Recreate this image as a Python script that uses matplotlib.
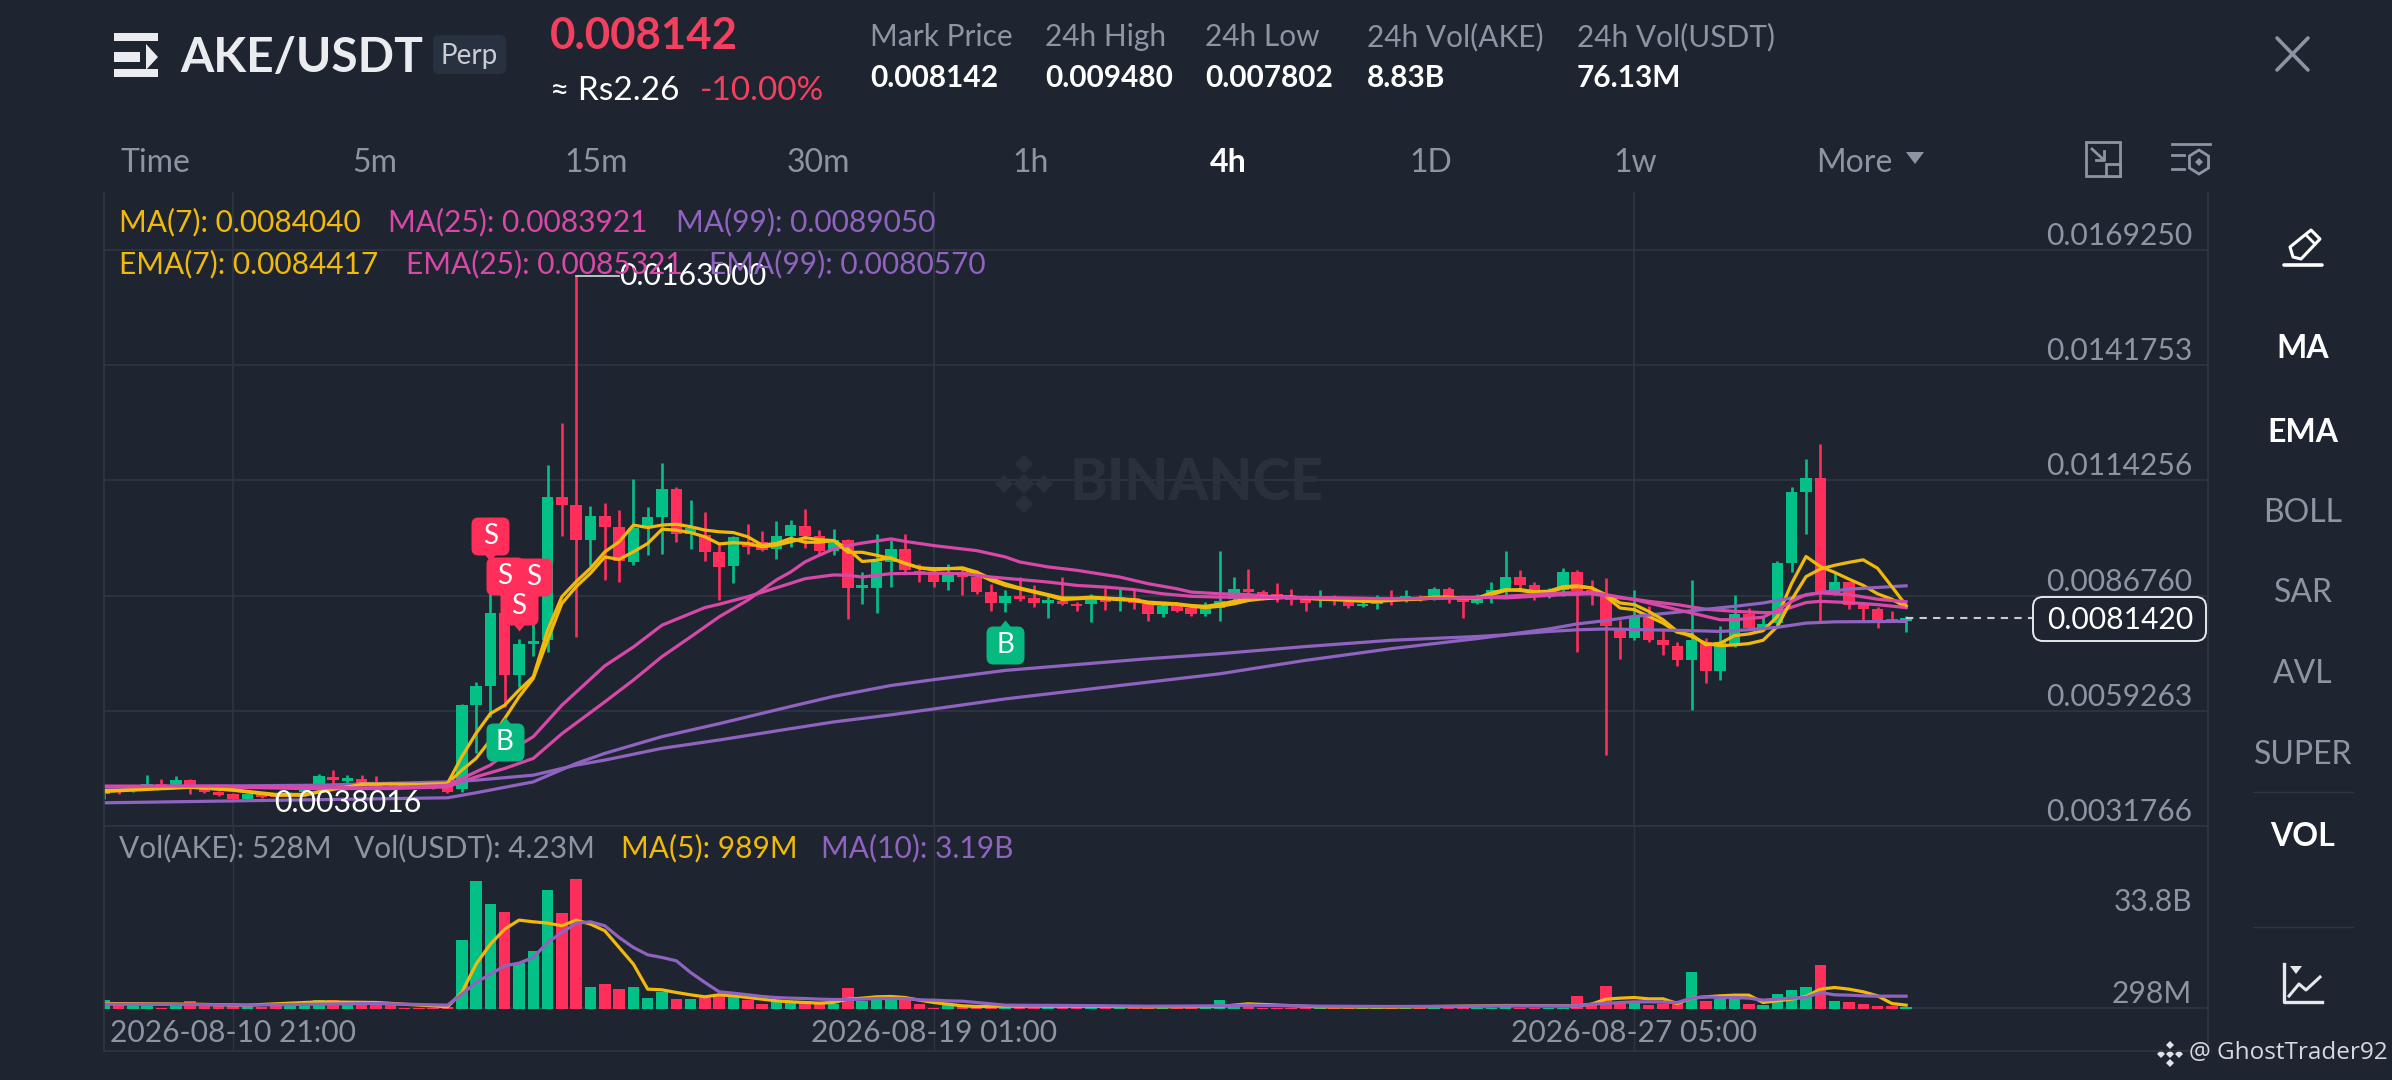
#!/usr/bin/env python
import numpy as np
import matplotlib
matplotlib.use("Agg")
import matplotlib.pyplot as plt
from matplotlib.collections import LineCollection
from matplotlib.patches import FancyBboxPatch, Rectangle, Polygon
from matplotlib.path import Path

plt.rcParams['font.family'] = ['Lato', 'DejaVu Sans']

# candles, prices are in units of 1e-3 USDT, 4h bars
opens = [3.95,4.05,4.02,4.11,4.19,4.15,4.27,4.07,3.99,3.95,3.83,3.93,3.91,3.89,3.99,4.11,4.35,4.25,4.31,4.23,
	4.21,4.19,4.17,4.15,4.13,4.07,6.06,6.52,8.27,6.78,7.53,7.61,11.04,10.84,10.00,10.58,10.32,9.47,10.28,10.56,
	11.22,10.15,10.12,9.72,9.38,9.96,9.96,9.80,10.09,10.34,10.09,9.75,10.01,8.86,8.86,9.48,9.79,9.26,9.21,9.00,
	9.24,9.13,8.76,8.51,8.66,8.62,8.51,8.54,8.47,8.47,8.64,8.54,8.62,8.47,8.23,8.42,8.39,8.24,8.39,8.60,
	8.84,8.76,8.72,8.64,8.58,8.58,8.60,8.52,8.42,8.48,8.62,8.59,8.64,8.66,8.84,8.64,8.50,8.68,8.82,9.12,
	8.93,8.64,8.82,9.23,8.82,8.70,7.90,7.66,8.18,7.62,7.48,7.14,7.58,6.87,7.53,8.24,7.90,8.02,9.45,11.16,
	11.48,8.75,8.99,8.44,8.36,8.12,8.06]
closes = [4.03,3.98,4.07,4.19,4.10,4.27,4.11,3.99,3.91,3.83,3.95,3.87,3.87,3.95,4.11,4.37,4.27,4.33,4.19,4.11,
	4.15,4.13,4.11,4.09,3.99,6.06,6.52,8.27,6.78,7.52,7.60,11.04,10.84,10.00,10.58,10.32,9.51,10.28,10.56,11.22,
	10.15,10.28,9.72,9.36,10.08,9.84,9.76,10.10,10.35,10.09,9.75,10.01,8.86,8.92,9.48,9.79,9.28,9.18,9.00,9.20,
	9.13,8.76,8.51,8.66,8.60,8.51,8.58,8.47,8.42,8.62,8.52,8.64,8.50,8.23,8.42,8.32,8.24,8.39,8.54,8.84,
	8.76,8.68,8.64,8.58,8.50,8.62,8.54,8.42,8.48,8.58,8.56,8.66,8.60,8.84,8.64,8.52,8.60,8.82,9.12,8.92,
	8.78,8.78,9.23,8.78,8.70,7.94,7.66,8.18,7.62,7.49,7.14,7.61,6.87,7.56,8.24,7.90,8.00,9.45,11.16,11.48,
	8.74,8.99,8.46,8.36,8.10,8.06,8.14]
highs = [4.05,4.07,4.10,4.39,4.29,4.37,4.29,4.10,4.01,3.97,3.97,3.95,3.93,3.98,4.15,4.41,4.51,4.39,4.39,4.37,
	4.23,4.21,4.19,4.17,4.15,6.09,6.62,8.77,8.50,7.65,8.01,11.79,12.80,16.30,10.81,10.89,10.72,11.47,10.80,11.83,
	11.26,10.96,10.67,9.92,10.10,10.38,10.22,10.46,10.47,10.75,10.25,10.27,10.03,9.25,10.14,10.01,10.14,9.44,9.34,9.42,
	9.34,9.28,8.96,8.82,9.12,8.92,8.72,9.12,8.52,8.72,8.86,8.84,8.82,8.50,8.52,8.52,8.44,8.52,9.74,9.12,
	9.32,8.82,8.97,8.84,8.68,8.82,8.68,8.60,8.62,8.68,8.80,8.82,8.68,8.88,8.88,8.68,8.72,9.00,9.75,9.28,
	8.99,8.86,9.33,9.29,9.05,9.09,8.10,8.82,8.42,7.86,7.56,9.04,7.66,7.96,8.68,8.38,8.18,9.51,11.28,11.94,
	12.30,9.21,9.01,8.50,8.40,8.32,8.20]
lows = [3.83,3.95,4.00,4.09,4.08,4.12,3.95,3.97,3.90,3.82,3.82,3.85,3.80,3.87,3.97,4.05,4.19,4.19,4.15,4.09,
	4.13,4.11,4.09,4.07,3.97,3.99,4.91,5.78,6.02,6.50,7.23,7.34,10.10,7.69,9.38,9.05,9.00,9.40,9.64,9.67,
	9.96,9.80,9.51,8.58,8.97,9.66,9.74,9.56,9.83,9.82,9.68,9.64,8.11,8.48,8.26,8.89,9.18,9.00,8.89,8.82,
	8.68,8.72,8.32,8.28,8.54,8.40,8.15,8.44,8.32,8.04,8.34,8.32,8.36,8.08,8.16,8.28,8.18,8.18,8.07,8.54,
	8.68,8.58,8.52,8.44,8.31,8.40,8.44,8.39,8.40,8.36,8.44,8.52,8.54,8.58,8.50,8.15,8.48,8.50,8.68,8.82,
	8.56,8.62,8.66,7.33,8.44,4.87,7.16,7.61,7.58,7.26,7.00,5.95,6.59,6.67,7.45,7.86,7.86,7.94,9.25,10.15,
	8.07,8.70,8.36,8.07,7.90,8.04,7.81]

# volume in billions
volume = [3.04,1.21,1.21,1.46,.36,1.46,2.91,.97,1.46,1.46,1.21,.49,.97,1.21,1.21,3.16,3.04,1.46,1.70,1.46,
	1.21,.36,.36,.36,.49,24.77,46.5,38.0,34.96,16.39,20.88,43.1,34.72,47.2,7.89,8.86,7.28,7.65,3.76,6.07,
	3.64,3.28,4.0,4.86,4.25,3.04,1.82,2.67,2.19,2.67,2.19,1.46,7.53,2.67,4.61,3.4,3.04,1.70,.36,1.46,
	.97,.97,.5,.97,.97,.24,.73,.73,.73,.97,.24,.24,.24,.6,.24,.24,.24,.24,3.16,.97,
	.97,.36,.24,.24,.24,.24,.24,.24,.24,.24,.24,.24,.24,.24,.24,.97,.24,.24,1.21,.36,
	.24,.24,.24,4.37,1.82,8.26,2.43,2.67,1.21,1.70,2.06,13.35,2.67,3.64,3.4,1.70,1.21,5.46,6.68,7.65,
	15.78,2.67,2.43,1.70,1.09,.97,.53]

# yellow lines
fast_idx = [0,3,6,9,12,14,16,18,20,22] + list(range(24, 127))
ma7 = [4.02,4.07,4.11,4.03,3.91,3.91,4.07,4.19,4.19,4.17,
	4.19,4.51,4.79,5.23,5.74,6.26,6.70,7.61,8.49,8.89,9.21,9.60,9.54,9.72,9.92,10.26,10.24,10.18,10.08,9.91,
	9.94,9.92,9.84,9.88,9.96,10.06,10.01,9.99,9.79,9.49,9.52,9.58,9.44,9.34,9.29,9.32,9.32,9.20,9.04,8.92,
	8.84,8.76,8.68,8.58,8.60,8.62,8.60,8.58,8.56,8.50,8.47,8.47,8.42,8.39,8.42,8.48,8.56,8.60,8.62,8.64,
	8.62,8.62,8.61,8.58,8.56,8.54,8.56,8.58,8.59,8.62,8.64,8.62,8.60,8.70,8.80,8.82,8.77,8.78,8.89,8.91,
	8.86,8.66,8.38,8.34,8.18,8.02,7.80,7.74,7.50,7.54,7.72,7.76,7.84,8.18,8.97,9.61,9.37,9.23,9.07,8.92,
	8.72,8.59,8.40]
ema7 = [4.00,4.05,4.10,4.04,3.93,3.93,4.05,4.17,4.18,4.17,
	4.19,4.83,5.39,5.86,6.06,6.42,6.74,7.85,8.65,9.01,9.33,9.72,9.96,10.36,10.30,10.36,10.38,10.32,10.24,10.20,
	10.18,10.08,9.88,9.92,10.04,9.95,9.95,9.99,9.71,9.71,9.64,9.56,9.45,9.34,9.32,9.32,9.34,9.24,9.08,8.96,
	8.86,8.78,8.70,8.62,8.62,8.64,8.62,8.60,8.58,8.52,8.50,8.48,8.44,8.42,8.47,8.54,8.60,8.64,8.64,8.64,
	8.61,8.59,8.58,8.56,8.54,8.54,8.58,8.59,8.61,8.64,8.64,8.61,8.62,8.74,8.82,8.80,8.75,8.75,8.86,8.89,
	8.86,8.70,8.50,8.46,8.30,8.10,7.82,7.70,7.53,7.48,7.50,7.53,7.61,7.94,8.58,9.13,9.31,9.40,9.47,9.53,
	9.33,8.89,8.44]

# magenta lines
ma25_idx = [0,8,14,20,24,26,28,30,32,35,37,39,41,43,45,47,48,49,50,51,52,53,54,55,56,58,60,61,63,64,66,68,71,73,75,76,78,80,82,90,96,98,
	102,104,105,106,107,108,110,112,114,116,117,118,119,120,122,124,126]
ma25 = [4.11,4.11,4.07,4.07,4.11,4.35,4.55,4.79,5.38,6.14,6.66,7.22,7.69,8.17,8.57,9.05,9.24,9.48,9.64,9.79,9.87,9.93,9.98,10.03,9.97,9.87,9.79,9.75,9.60,9.48,9.36,9.28,9.12,8.96,8.84,8.76,8.72,8.70,8.64,8.60,8.64,8.62,
	8.70,8.72,8.67,8.62,8.59,8.54,8.46,8.35,8.30,8.27,8.27,8.40,8.51,8.54,8.51,8.46,8.39]
ema25_idx = [0,8,14,20,24,26,27,28,30,32,35,37,39,41,42,43,45,48,49,51,52,53,55,58,60,62,64,66,68,70,72,74,76,78,80,85,90,96,98,
	102,104,105,106,107,108,110,112,113,114,116,117,118,119,120,122,124,126]
ema25 = [4.13,4.13,4.09,4.09,4.15,4.47,4.63,4.89,5.31,6.06,7.00,7.45,7.97,8.25,8.39,8.47,8.65,8.97,9.08,9.17,9.16,9.12,9.20,9.21,9.20,9.12,9.06,9.00,8.92,8.88,8.82,8.72,8.66,8.64,8.64,8.62,8.60,8.62,8.66,
	8.74,8.75,8.70,8.64,8.58,8.50,8.34,8.18,8.10,8.10,8.16,8.34,8.54,8.70,8.74,8.70,8.59,8.53]

# purple lines
ma99_idx = [0,15,24,26,30,33,35,39,43,48,51,55,58,63,68,73,78,84,90,96,98,101,103,105,107,110,112,114,116,118,120,122,126]
ma99 = [4.11,4.15,4.23,4.27,4.39,4.63,4.75,5.03,5.23,5.50,5.66,5.83,5.97,6.21,6.41,6.61,6.81,7.13,7.41,7.65,7.74,7.88,8.00,8.08,8.18,8.28,8.35,8.42,8.50,8.62,8.75,8.83,8.91]
ema99_idx = [0,24,26,30,33,35,39,43,48,51,55,58,63,68,73,78,84,90,96,98,101,103,105,108,111,113,115,117,119,121,126]
ema99 = [3.73,3.85,3.97,4.23,4.67,4.91,5.31,5.62,6.03,6.27,6.53,6.67,6.89,7.03,7.17,7.29,7.46,7.61,7.70,7.74,7.82,7.86,7.88,7.86,7.84,7.82,7.86,7.92,8.02,8.05,8.06]

# volume averages
vol_idx = [0,6,10,15,19,24] + list(range(25, 62)) + [63,68,73,78,80,85,90,95,98,103] + list(range(104, 127))
vol_ma5 = [1.82,1.58,1.21,2.43,2.19,.61,
	5.83,16.15,23.43,28.89,32.17,31.56,31.08,30.11,32.17,30.71,28.29,22.22,16.15,7.04,6.80,5.83,4.98,4.25,4.98,4.61,4.0,3.4,2.79,2.43,2.19,1.94,2.19,3.4,3.76,4.25,4.37,4.0,3.04,2.19,1.58,.97,.73,
	.85,.85,.6,.73,1.7,.6,.49,.85,1.09,.97,
	1.58,3.4,3.76,4.0,3.52,3.52,1.82,3.76,4.25,4.61,4.86,4.86,2.19,2.79,3.4,4.37,7.04,7.65,7.04,6.07,4.61,1.82,1.21]
vol_ma10 = [1.58,1.46,1.21,1.58,1.82,1.21,
	5.22,9.47,12.5,15.54,16.51,18.57,24.04,27.68,31.08,31.56,30.11,25.86,22.22,19.55,18.57,17.36,13.11,9.47,6.07,5.58,4.98,4.37,4.0,3.76,3.64,3.4,3.28,3.28,3.4,3.64,3.64,3.64,3.16,3.04,2.79,2.67,2.19,
	1.21,1.09,.85,.97,1.21,.85,.73,.85,.97,.97,
	1.58,1.82,2.19,2.43,2.43,2.31,2.19,3.76,4.25,4.0,4.0,3.76,3.04,3.4,3.76,4.0,5.83,4.98,4.86,4.61,4.49,4.49,4.49]

price_levels = [3.1766, 5.9263, 8.6760, 11.4256, 14.1753, 16.9250]
price_labels = ["0.0031766", "0.0059263", "0.0086760", "0.0114256", "0.0141753", "0.0169250"]
vol_levels = [0.298, 33.8]
vol_labels = ["298M", "33.8B"]
date_idx = [9, 58, 107]
date_labels = ["2026-08-10 21:00", "2026-08-19 01:00", "2026-08-27 05:00"]
last_price = 8.142

# trade tags: index, price at tag centre, letter
sell_idx = [27, 28, 30, 29]
sell_price = [10.10, 9.15, 9.12, 8.43]
buy_idx = [28, 63]
buy_price = [5.18, 7.50]

tabs = ["Time", "5m", "15m", "30m", "1h", "4h", "1D", "1w", "More"]
tab_x = [155, 375, 596, 818, 1031, 1228, 1431, 1635, 1854]
stat_names = ["Mark Price", "24h High", "24h Low", "24h Vol(AKE)", "24h Vol(USDT)"]
stat_values = ["0.008142", "0.009480", "0.007802", "8.83B", "76.13M"]
stat_x = [870, 1045, 1205, 1367, 1577]
side_names = ["MA", "EMA", "BOLL", "SAR", "AVL", "SUPER", "VOL"]
side_y = [349, 432, 513, 593, 674, 755, 837]
side_on = [True, True, False, False, False, False, True]

BG = "#1E2530"
GRID = "#2E3641"
GREY = "#8D95A3"
GREEN = "#03C087"
RED = "#FF2E5B"
YELLOW = "#F0B90B"
MAGENTA = "#D848A8"
PURPLE = "#9063C0"
W, H = 2392, 1080

fig = plt.figure(figsize=(W/100, H/100), dpi=100, facecolor=BG)

def pix_axes(left, top, right, bottom):
	return fig.add_axes([left/W, 1 - bottom/H, (right-left)/W, (bottom-top)/H], facecolor=BG)

ax = pix_axes(104, 192, 2208, 826)
vax = pix_axes(104, 826, 2208, 1051)

opens = np.array(opens)
closes = np.array(closes)
highs = np.array(highs)
lows = np.array(lows)
idx = np.arange(len(opens))
up = closes >= opens
bar_colors = np.where(up, GREEN, RED)

# px scale: 14.3 per bar, 42.14 per 1e-3 of price
for a in [ax, vax]:
	a.set_xlim(-0.02, 147.11)
	for s in a.spines.values():
		s.set_visible(False)
ax.set_ylim(3.1766, 18.31)
vax.set_ylim(-15.47, 66.43)

segs = [[(i, l), (i, h)] for i, l, h in zip(idx, lows, highs)]
ax.add_collection(LineCollection(segs, colors=bar_colors, linewidths=1.9, zorder=3))
ax.bar(idx, np.maximum(np.abs(closes - opens), 0.05), bottom=np.minimum(opens, closes), width=0.8, color=bar_colors, zorder=3)

lw = 2.3
ax.plot(fast_idx, ma7, color=YELLOW, lw=lw, zorder=4)
ax.plot(ma25_idx, ma25, color=MAGENTA, lw=lw, zorder=4)
ax.plot(ma99_idx, ma99, color=PURPLE, lw=lw, zorder=4)
ax.plot(fast_idx, ema7, color=YELLOW, lw=lw, zorder=4)
ax.plot(ema25_idx, ema25, color=MAGENTA, lw=lw, zorder=4)
ax.plot(ema99_idx, ema99, color=PURPLE, lw=lw, zorder=4)

# tag markers, rounded box with a small pointer
def tag_path(tip):
	r, b, t = 19.0, 7.0, 25.0
	verts = [(-r+b, -r), (-5, -r), (0, -t), (5, -r), (r-b, -r), (r, -r), (r, -r+b), (r, r-b), (r, r), (r-b, r), (-r+b, r), (-r, r), (-r, r-b), (-r, -r+b), (-r, -r), (-r+b, -r), (0, t)]
	codes = [Path.MOVETO, Path.LINETO, Path.LINETO, Path.LINETO, Path.LINETO, Path.CURVE3, Path.CURVE3, Path.LINETO, Path.CURVE3, Path.CURVE3, Path.LINETO, Path.CURVE3, Path.CURVE3, Path.LINETO, Path.CURVE3, Path.CURVE3, Path.MOVETO]
	v = np.array(verts)
	if tip == "up":
		v[:, 1] = -v[:, 1]
	return Path(v, codes)

ax.plot(sell_idx, sell_price, ls="", marker=tag_path("down"), ms=36, mfc=RED, mec="none", zorder=5)
ax.plot(buy_idx, buy_price, ls="", marker=tag_path("up"), ms=36, mfc="#06B981", mec="none", zorder=5)
for i, p in zip(sell_idx, sell_price):
	ax.text(i, p, "S", color="white", fontsize=20, ha="center", va="center", zorder=6)
for i, p in zip(buy_idx, buy_price):
	ax.text(i, p, "B", color="white", fontsize=20, ha="center", va="center", zorder=6)

# high, low, last price
ax.plot([33, 36], [16.30, 16.30], color="#D9DCE1", lw=1.2, zorder=5)
ax.text(36, 16.30, "0.0163000", color="white", fontsize=21.8, ha="left", va="center", zorder=6)
ax.text(17, 3.72, "0.0038016", color="white", fontsize=21.8, ha="center", va="center", zorder=6)
ax.plot([126, 135.9], [last_price, last_price], color="#C9CDD3", lw=1.5, ls=(0, (3.5, 3)), zorder=4)

# axes, grid lines and labels
ax.set_yticks(price_levels, price_labels)
ax.set_xticks(date_idx)
ax.grid(True, color=GRID, lw=1.2, zorder=0)
ax.tick_params(axis="x", length=0, labelbottom=False)
ax.tick_params(axis="y", length=0, labelleft=False, labelright=True, pad=-11.5, labelsize=21.6, labelcolor=GREY)
ax.set_axisbelow(True)
for label in ax.get_yticklabels():
	label.set_ha("right")
	label.set_va("bottom")

vax.bar(idx, volume, width=0.8, color=bar_colors, zorder=3)
vax.plot(vol_idx, vol_ma5, color=YELLOW, lw=lw, zorder=4)
vax.plot(vol_idx, vol_ma10, color=PURPLE, lw=lw, zorder=4)
vax.axhline(0.298, color=GRID, lw=1.2, zorder=1)
vax.set_yticks(vol_levels, vol_labels)
vax.set_xticks(date_idx, date_labels)
vax.grid(True, axis="x", color=GRID, lw=1.0, zorder=0)
vax.set_axisbelow(True)
vax.tick_params(axis="x", length=0, pad=-23, labelsize=21.6, labelcolor=GREY)
vax.tick_params(axis="y", length=0, labelleft=False, labelright=True, pad=-11.5, labelsize=21.6, labelcolor=GREY)
for label in vax.get_yticklabels():
	label.set_ha("right")
	label.set_va("bottom")

# everything else lives on a pixel overlay
ui = fig.add_axes([0, 0, 1, 1], facecolor="none")
ui.set_xlim(0, W)
ui.set_ylim(H, 0)
ui.axis("off")

def txt(x, y, s, color="white", size=20, ha="left", weight="normal"):
	ui.text(x, y, s, color=color, fontsize=size, ha=ha, va="center", fontweight=weight)

def diamond(x, y, r, color):
	ui.add_patch(Polygon([(x-r, y), (x, y-r), (x+r, y), (x, y+r)], color=color, lw=0))

# frame
ui.plot([104, 104], [192, 1051], color=GRID, lw=1.2)
ui.plot([2208, 2208], [192, 1051], color=GRID, lw=1.2)
ui.plot([104, 2208], [826, 826], color=GRID, lw=1.2)
ui.plot([104, 2208], [1051, 1051], color=GRID, lw=1.2)

# header
for y0, y1, x1 in [(33, 41, 158), (69, 77, 158)]:
	ui.add_patch(Rectangle((114, y0), x1-114, y1-y0, color="#EAECEF", lw=0))
ui.add_patch(Rectangle((114, 52), 26, 10, color="#EAECEF", lw=0))
ui.add_patch(Polygon([(146, 44), (158, 57), (146, 70)], color="#EAECEF", lw=0))
txt(180, 58, "AKE/USDT", color="#EAECEF", size=34.5, weight="bold")
ui.add_patch(FancyBboxPatch((437, 39), 65, 31, boxstyle="round,pad=4,rounding_size=6", fc="#283140", ec="none"))
txt(469, 56, "Perp", color="#C9CDD3", size=20, ha="center")
txt(550, 36, "0.008142", color="#F4405F", size=31.5, weight="bold")
txt(550, 91, "≈ Rs2.26", size=24)
txt(700, 91, "-10.00%", color="#F4405F", size=24)
for x, name, value in zip(stat_x, stat_names, stat_values):
	txt(x, 37, name, color=GREY, size=21.5)
	txt(x, 78, value, size=21.5, weight="bold")
ui.plot([2277, 2308], [38, 70], color=GREY, lw=2.6, solid_capstyle="round")
ui.plot([2277, 2308], [70, 38], color=GREY, lw=2.6, solid_capstyle="round")

# timeframe tabs
for x, name in zip(tab_x, tabs):
	on = name == "4h"
	txt(x, 163, name, color="white" if on else GREY, size=23, ha="center", weight="bold" if on else "normal")
ui.add_patch(Polygon([(1906, 152), (1924, 152), (1915, 164)], color=GREY, lw=0))

# resize icon
ui.add_patch(Rectangle((2086, 142), 34, 34, fc="none", ec=GREY, lw=2))
ui.add_patch(Rectangle((2106, 164), 14, 12, fc=BG, ec=GREY, lw=2))
ui.plot([2092, 2104], [149, 160], color=GREY, lw=2)
ui.plot([2096, 2104, 2104], [160, 160, 151], color=GREY, lw=2)
# settings icon
ui.plot([2172, 2210], [144, 144], color=GREY, lw=2)
ui.plot([2172, 2184], [155, 155], color=GREY, lw=2)
ui.plot([2172, 2184], [169, 169], color=GREY, lw=2)
hex_t = np.deg2rad(np.arange(30, 390, 60))
ui.add_patch(Polygon(np.c_[2199 + 11*np.cos(hex_t), 162 + 12*np.sin(hex_t)], fc="none", ec=GREY, lw=2))
diamond(2199, 162, 4, GREY)

# indicator legends
txt(119, 222, "MA(7): 0.0084040", color=YELLOW, size=21.5)
txt(388, 222, "MA(25): 0.0083921", color=MAGENTA, size=21.5)
txt(676, 222, "MA(99): 0.0089050", color=PURPLE, size=21.5)
txt(119, 264, "EMA(7): 0.0084417", color=YELLOW, size=21.5)
txt(406, 264, "EMA(25): 0.0085321", color=MAGENTA, size=21.5)
txt(709, 264, "EMA(99): 0.0080570", color=PURPLE, size=21.5)
txt(119, 848, "Vol(AKE): 528M", color=GREY, size=21.5)
txt(354, 848, "Vol(USDT): 4.23M", color=GREY, size=21.5)
txt(621, 848, "MA(5): 989M", color=YELLOW, size=21.5)
txt(821, 848, "MA(10): 3.19B", color=PURPLE, size=21.5)

# last price box
ui.add_patch(FancyBboxPatch((2041, 605), 157, 28, boxstyle="round,pad=8,rounding_size=10", fc=BG, ec="#E6E8EB", lw=1.4))
txt(2120, 620, "0.0081420", size=21.6, ha="center")

# right column
for y, name, on in zip(side_y, side_names, side_on):
	txt(2303, y, name, color="white" if on else GREY, size=23, ha="center", weight="bold" if on else "normal")
for y in [792, 927]:
	ui.plot([2253, 2353], [y, y], color=GRID, lw=1.0)
# pencil
ui.add_patch(Polygon([(2293, 257), (2290, 247), (2311, 230), (2320, 239), (2301, 259)], fc="none", ec="white", lw=2.2, joinstyle="round"))
ui.plot([2306, 2315], [235, 244], color="white", lw=2)
ui.plot([2284, 2322], [265, 265], color="white", lw=2.6, solid_capstyle="round")
# chart icon
ui.plot([2284, 2284, 2322], [964, 1002, 1002], color="#E6E8EB", lw=2.4)
ui.plot([2289, 2299, 2306, 2320], [996, 984, 990, 977], color="#E6E8EB", lw=2.2)
ui.add_patch(Polygon([(2290, 966), (2302, 966), (2296, 974)], color="#E6E8EB", lw=0))

# watermark
wm = "#29313D"
diamond(1024, 484, 10, wm)
for dx, dy in [(-20, 0), (20, 0), (0, -20), (0, 20)]:
	diamond(1024+dx, 484+dy, 9, wm)
txt(1070, 484, "BINANCE", color=wm, size=41, weight="black")

# credit
diamond(2170, 1054, 4, "#E0E3E8")
for dx, dy in [(-9, 0), (9, 0), (0, -9), (0, 9)]:
	diamond(2170+dx, 1054+dy, 4, "#E0E3E8")
ui.text(2189, 1053, "@ GhostTrader92", color="#D6D9DE", fontsize=17.5, family=["Open Sans", "DejaVu Sans"], ha="left", va="center")

fig.savefig("out.png", dpi=100, facecolor=BG)
